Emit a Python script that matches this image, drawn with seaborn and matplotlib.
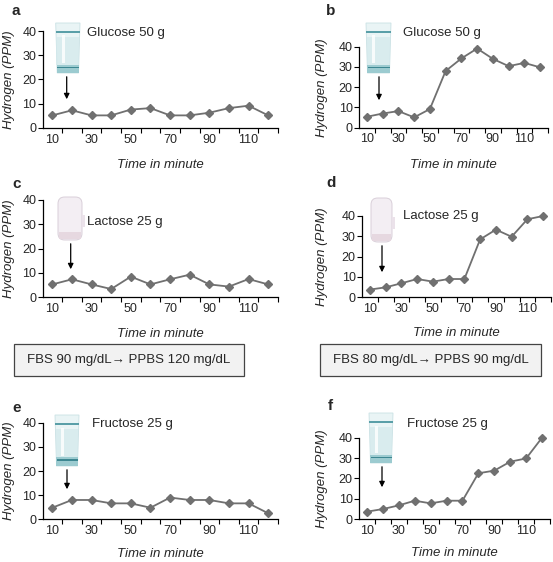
import matplotlib
matplotlib.use('Agg')
import matplotlib.pyplot as plt
import seaborn as sns
import numpy as np
from matplotlib.patches import Polygon, Rectangle, FancyBboxPatch, FancyArrowPatch

# tiempos de muestreo (min)
tiempo = [10, 20, 30, 40, 50, 60, 70, 80, 90, 100, 110, 120]
etiquetas_x = ["10", "", "30", "", "50", "", "70", "", "90", "", "110", ""]

# hidrogeno (PPM) por panel
glucosa_a = [5.2, 7.3, 5.2, 5.2, 7.6, 8.2, 5.2, 5.2, 6.3, 8.2, 9.2, 5.2]
glucosa_b = [5.4, 7.0, 8.2, 5.1, 9.2, 28.0, 34.2, 39.1, 34.0, 30.4, 32.0, 29.8]
lactosa_c = [5.3, 7.4, 5.3, 3.4, 8.5, 5.3, 7.4, 9.3, 5.3, 4.4, 7.5, 5.3]
lactosa_d = [3.8, 4.9, 6.9, 9.0, 7.7, 9.0, 9.0, 28.5, 33.3, 29.8, 38.4, 40.0]
fructosa_e = [4.8, 8.0, 8.0, 6.6, 6.6, 4.8, 9.0, 8.0, 8.0, 6.6, 6.6, 2.5]
fructosa_f = [3.6, 4.9, 6.7, 9.0, 7.7, 9.0, 9.0, 22.5, 23.8, 28.2, 29.8, 40.0]

letras = ["a", "b", "c", "d", "e", "f"]
textos = ["Glucose 50 g", "Glucose 50 g", "Lactose 25 g", "Lactose 25 g",
          "Fructose 25 g", "Fructose 25 g"]
cajas = ["FBS 90 mg/dL\u2192 PPBS 120 mg/dL", "FBS 80 mg/dL\u2192 PPBS 90 mg/dL"]

sns.set_theme(style="ticks")
plt.rcParams['font.family'] = ['Liberation Sans', 'DejaVu Sans']

W, H = 553, 562
fig = plt.figure(figsize=(W / 100, H / 100), dpi=100)


def fx(x):
    return x / W


def fy(y):
    return 1 - y / H


def vaso(x0, y0, x1, y1):
    # vaso de agua dibujado con poligonos
    h = y1 - y0
    t = fig.transFigure
    cuerpo = Polygon([(fx(x0), fy(y0)), (fx(x1), fy(y0)), (fx(x1 - 1.5), fy(y1)), (fx(x0 + 1.5), fy(y1))],
                     closed=True, facecolor='#e9f4f5', edgecolor='#c9e1e4', lw=0.6, transform=t)
    fig.add_artist(cuerpo)
    fig.add_artist(Rectangle((fx(x0 + 0.3), fy(y0 + 0.2 * h)), (x1 - x0 - 0.6) / W, 2 / H,
                             facecolor='#5a9fa8', edgecolor='none', transform=t))
    fig.add_artist(Rectangle((fx(x0 + 0.6), fy(y1 - 0.17 * h)), (x1 - x0 - 1.2) / W, 0.55 * h / H,
                             facecolor='#d3e9ec', edgecolor='none', alpha=0.7, transform=t))
    fig.add_artist(Rectangle((fx(x0 + 1.3), fy(y1)), (x1 - x0 - 2.6) / W, 0.17 * h / H,
                             facecolor='#9ccbd0', edgecolor='none', transform=t))
    fig.add_artist(Rectangle((fx(x0 + 1.5), fy(y1 - 0.1 * h)), (x1 - x0 - 3) / W, 1.5 / H,
                             facecolor='#3d8791', edgecolor='none', transform=t))
    fig.add_artist(Rectangle((fx(x0 + 0.25 * (x1 - x0)), fy(y1 - 0.2 * h)), 3 / W, 0.55 * h / H,
                             facecolor='white', edgecolor='none', alpha=0.8, transform=t))


def frasco(x0, y0, x1, y1):
    # frasco blanco de lactosa
    t = fig.transFigure
    fig.add_artist(FancyBboxPatch((fx(x0), fy(y1)), (x1 - x0) / W, (y1 - y0) / H,
                                  boxstyle="round,pad=0,rounding_size=0.012",
                                  facecolor='#f3eef3', edgecolor='#d9cfd9', lw=0.7, transform=t))
    fig.add_artist(Rectangle((fx(x0 + 1), fy(y1 - 1)), (x1 - x0 - 2) / W, 7 / H,
                             facecolor='#e6d8e0', edgecolor='none', transform=t))
    fig.add_artist(Rectangle((fx(x1), fy(y0 + 0.7 * (y1 - y0))), 3 / W, 12 / H,
                             facecolor='#ebe2ea', edgecolor='none', transform=t))


def flecha(x, y0, y1):
    fig.add_artist(FancyArrowPatch((fx(x), fy(y0)), (fx(x), fy(y1)), transform=fig.transFigure,
                                   arrowstyle='-|>', mutation_scale=8, color='black', lw=0.9))


# posiciones en pixeles: izquierda, arriba, derecha, abajo
rects = [(42.5, 31, 278, 128), (359, 46.7, 548, 127.7),
         (42.5, 200, 278, 297.3), (362, 216, 551, 297.3),
         (42.5, 422.7, 278, 519.3), (359, 437.7, 550, 519)]
series = [glucosa_a, glucosa_b, lactosa_c, lactosa_d, fructosa_e, fructosa_f]
xlab_top = [159, 159, 328, 327, 548, 547]
ylab_der = [15, 328, 15, 328, 15, 328]
letra_pos = [(12, 11), (326, 11), (12, 184), (326, 183), (12, 408), (328, 406)]
texto_pos = [(87, 33), (403, 33), (87, 222), (403, 216), (92, 424), (407, 424)]
img_pos = [(55.7, 23, 80, 73), (366, 23, 391, 73), (58, 197, 82, 240),
           (371, 198, 392, 242), (55, 415, 79, 466), (369, 413, 393, 463)]
flecha_pos = [(66.7, 74, 102), (379, 74, 103), (70.7, 241, 272),
              (382, 243, 275), (67, 467, 492), (382, 464, 490)]

for i, (l, t, r, b) in enumerate(rects):
    ax = fig.add_axes([fx(l), fy(b), (r - l) / W, (b - t) / H])
    sns.pointplot(x=tiempo, y=series[i], order=tiempo, color='#707070', markers='D',
                  markersize=4.5, linewidth=1.3, errorbar=None, ax=ax)
    for ln in ax.lines:
        ln.set_clip_on(False)

    ax.set_ylim(0, 40)
    ax.set_xlim(-0.5, len(tiempo) - 0.5)
    ax.set_yticks([0, 10, 20, 30, 40])
    ax.set_xticks(range(len(tiempo)))
    ax.set_xticklabels(etiquetas_x)
    ax.set_xticks(np.arange(0.5, len(tiempo)), minor=True)
    ax.tick_params(axis='x', which='major', length=0, pad=4, labelsize=9)
    ax.tick_params(axis='x', which='minor', length=3.5, width=0.8, color='black')
    ax.tick_params(axis='y', length=3.5, width=0.8, pad=1, labelsize=9, color='black')
    for s in ['left', 'bottom']:
        ax.spines[s].set_linewidth(0.9)
        ax.spines[s].set_color('black')
    sns.despine(ax=ax)

    ax.set_ylabel("Hydrogen (PPM)", style='italic', fontsize=9.5)
    ax.yaxis.set_label_coords((ylab_der[i] - l) / (r - l), 0.5)
    ax.set_xlabel("Time in minute", style='italic', fontsize=9.5)
    ax.xaxis.set_label_coords(0.5, (b - xlab_top[i]) / (b - t))

    fig.text(fx(letra_pos[i][0]), fy(letra_pos[i][1]), letras[i], fontsize=11,
             fontweight='bold', ha='left', va='center')
    fig.text(fx(texto_pos[i][0]), fy(texto_pos[i][1]), textos[i], fontsize=9.5,
             ha='left', va='center')

    if i in (2, 3):
        frasco(*img_pos[i])
    else:
        vaso(*img_pos[i])
    flecha(*flecha_pos[i])

# cajas de glucemia
for (x0, x1), txt in zip([(14, 244), (320, 541)], cajas):
    fig.add_artist(Rectangle((fx(x0), fy(376)), (x1 - x0) / W, 32 / H, facecolor='#f2f2f2',
                             edgecolor='#444444', lw=0.9, transform=fig.transFigure))
    fig.text(fx((x0 + x1) / 2), fy(360), txt, fontsize=9.5, ha='center', va='center')

plt.savefig("out.png", dpi=100)
plt.close()
